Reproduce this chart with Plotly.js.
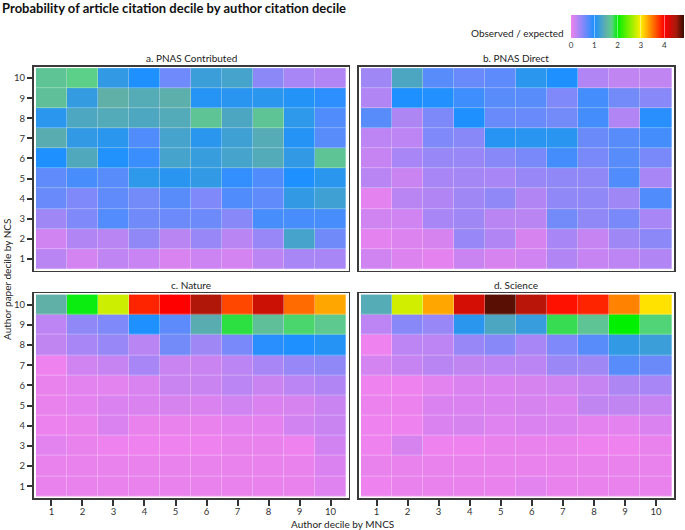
<!DOCTYPE html>
<html>
<head>
<meta charset="utf-8">
<script src="https://cdn.plot.ly/plotly-3.0.1.min.js"></script>
<style>
  html, body { margin: 0; padding: 0; background: #fff; }
  #chart { width: 685px; height: 530px; }
</style>
</head>
<body>
<div id="chart"></div>
<script>
// deciles: columns = author decile by MNCS, rows = author paper decile by NCS (top row first)
let colDeciles = [1, 2, 3, 4, 5, 6, 7, 8, 9, 10];
let rowDeciles = [10, 9, 8, 7, 6, 5, 4, 3, 2, 1];

let pnasContributed = [
  [1.65, 1.75, 1.15, 1.0, 0.62, 1.22, 1.3, 0.48, 0.34, 0.3],
  [1.62, 1.17, 1.5, 1.42, 1.48, 1.06, 1.08, 1.1, 1.04, 0.93],
  [1.1, 1.36, 1.4, 1.36, 1.4, 1.65, 1.35, 1.65, 1.12, 0.76],
  [1.45, 1.15, 1.1, 0.76, 1.3, 1.1, 1.25, 1.42, 1.05, 0.72],
  [1.0, 1.38, 1.02, 0.87, 1.3, 1.2, 1.3, 1.4, 1.15, 1.65],
  [0.69, 0.8, 0.72, 1.12, 1.08, 1.15, 0.9, 0.76, 1.0, 1.1],
  [0.65, 0.54, 0.69, 0.6, 0.72, 0.54, 0.76, 0.69, 1.15, 1.25],
  [0.38, 0.54, 0.75, 0.61, 0.63, 0.63, 0.5, 0.8, 0.8, 0.8],
  [0.15, 0.3, 0.26, 0.46, 0.26, 0.42, 0.26, 0.42, 1.3, 0.61],
  [0.26, 0.13, 0.23, 0.19, 0.11, 0.17, 0.13, 0.25, 0.34, 0.34]
];

let pnasDirect = [
  [0.38, 1.35, 0.72, 0.65, 0.7, 1.1, 1.0, 0.3, 0.22, 0.22],
  [0.3, 1.0, 0.98, 0.85, 0.72, 0.72, 0.54, 0.82, 0.6, 0.5],
  [0.72, 0.32, 0.55, 1.0, 0.65, 0.65, 0.6, 0.82, 0.3, 0.95],
  [0.24, 0.24, 0.54, 0.5, 1.07, 1.08, 1.08, 0.64, 0.72, 0.82],
  [0.2, 0.34, 0.42, 0.42, 0.5, 0.57, 0.82, 0.57, 0.72, 0.57],
  [0.26, 0.18, 0.34, 0.36, 0.34, 0.42, 0.46, 0.46, 0.76, 0.34],
  [0.05, 0.26, 0.3, 0.38, 0.46, 0.3, 0.46, 0.46, 0.38, 0.76],
  [0.15, 0.15, 0.34, 0.38, 0.26, 0.26, 0.6, 0.46, 0.57, 0.34],
  [0.05, 0.09, 0.12, 0.42, 0.3, 0.12, 0.34, 0.2, 0.38, 0.48],
  [0.15, 0.09, 0.05, 0.18, 0.12, 0.15, 0.3, 0.2, 0.24, 0.3]
];

let nature = [
  [1.5, 1.97, 2.8, 3.85, 4.0, 4.45, 3.7, 4.3, 3.55, 3.3],
  [0.24, 0.46, 0.54, 1.0, 0.7, 1.45, 1.88, 1.62, 1.8, 1.7],
  [0.22, 0.34, 0.42, 0.26, 0.6, 0.38, 0.57, 0.95, 1.0, 1.05],
  [0.0, 0.15, 0.2, 0.34, 0.18, 0.18, 0.25, 0.34, 0.42, 0.46],
  [0.02, 0.06, 0.06, 0.11, 0.18, 0.18, 0.25, 0.18, 0.25, 0.3],
  [0.02, 0.05, 0.1, 0.1, 0.12, 0.1, 0.15, 0.1, 0.12, 0.18],
  [0.01, 0.02, 0.1, 0.02, 0.02, 0.02, 0.05, 0.05, 0.14, 0.18],
  [0.06, 0.02, 0.0, 0.0, 0.0, 0.0, 0.02, 0.02, 0.0, 0.14],
  [0.02, 0.02, 0.02, 0.02, 0.02, 0.02, 0.02, 0.02, 0.02, 0.1],
  [0.02, 0.02, 0.02, 0.02, 0.02, 0.02, 0.02, 0.02, 0.02, 0.08]
];

let science = [
  [1.42, 2.82, 3.3, 4.25, 4.75, 4.4, 3.93, 3.85, 3.45, 3.05],
  [0.24, 0.5, 0.42, 1.1, 1.35, 1.2, 1.85, 1.65, 2.0, 1.78],
  [0.0, 0.24, 0.24, 0.42, 0.5, 0.34, 0.54, 0.72, 1.15, 1.22],
  [0.13, 0.2, 0.26, 0.22, 0.24, 0.25, 0.4, 0.38, 0.72, 0.64],
  [0.0, 0.0, 0.06, 0.1, 0.1, 0.12, 0.15, 0.2, 0.32, 0.34],
  [0.01, 0.01, 0.1, 0.1, 0.1, 0.12, 0.1, 0.22, 0.22, 0.2],
  [0.0, 0.0, 0.1, 0.12, 0.08, 0.1, 0.1, 0.05, 0.05, 0.1],
  [0.0, 0.12, 0.0, 0.0, 0.02, 0.02, 0.02, 0.0, 0.0, 0.02],
  [0.02, 0.02, 0.02, 0.02, 0.02, 0.02, 0.02, 0.02, 0.02, 0.02],
  [0.0, 0.02, 0.02, 0.02, 0.02, 0.06, 0.02, 0.02, 0.02, 0.02]
];

let panelTitles = ['a. PNAS Contributed', 'b. PNAS Direct', 'c. Nature', 'd. Science'];
let colorTicks = [0, 1, 2, 3, 4];

// colour scale stops, in observed/expected units
let zMax = 4.85;
let stopValues = [0, 0.5, 1, 1.5, 1.75, 2, 3, 4, 4.5, 4.85];
let stopColors = ['#ee82ee', '#8888f8', '#1e90ff', '#60b0a8', '#5ccf88', '#00f000', '#ffee00', '#ff0000', '#a81a0a', '#3a0a00'];
let scale = stopValues.map((v, i) => [v / zMax, stopColors[i]]);

let W = 685, H = 530;
let px = x => x / W;
let py = y => 1 - y / H;

let xDom = [[px(33.5), px(348.5)], [px(358.5), px(674)]];
let yDom = [[py(270.5), py(66.5)], [py(498), py(293)]];

let font = 'Lato, "Open Sans", sans-serif';
let ink = '#333';

let data = [];
let layout = {
  width: W, height: H,
  margin: {l: 0, r: 0, t: 0, b: 0},
  paper_bgcolor: '#fff',
  plot_bgcolor: '#fff',
  font: {family: font, size: 10, color: ink},
  showlegend: false,
  coloraxis: {
    colorscale: scale, cmin: 0, cmax: zMax,
    colorbar: {
      orientation: 'h',
      x: px(627.5), xanchor: 'center',
      y: py(15), yanchor: 'top',
      len: 113 / W, lenmode: 'fraction',
      thickness: 23, thicknessmode: 'pixels',
      xpad: 0, ypad: 0,
      outlinewidth: 0,
      tickvals: colorTicks,
      ticks: 'inside', ticklen: 23, tickwidth: 1, tickcolor: 'rgba(255,255,255,0.45)',
      tickfont: {size: 8, color: ink, family: font}
    }
  },
  annotations: [],
  title: {
    text: '<b>Probability of article citation decile by author citation decile</b>',
    x: 0.003, xanchor: 'left', y: py(8), yanchor: 'middle',
    font: {family: font, size: 13, color: '#111'}
  }
};

let panels = [pnasContributed, pnasDirect, nature, science];
panels.forEach((z, i) => {
  let col = i % 2, row = Math.floor(i / 2);
  let n = i + 1;
  let xa = n === 1 ? 'xaxis' : 'xaxis' + n;
  let ya = n === 1 ? 'yaxis' : 'yaxis' + n;
  data.push({
    type: 'heatmap',
    x: colDeciles, y: rowDeciles, z: z,
    xaxis: 'x' + (n === 1 ? '' : n), yaxis: 'y' + (n === 1 ? '' : n),
    coloraxis: 'coloraxis',
    xgap: 0.3, ygap: 0.3,
    hoverinfo: 'skip'
  });
  layout[xa] = {
    domain: xDom[col], anchor: 'y' + (n === 1 ? '' : n),
    range: [0.42, 10.58], fixedrange: true,
    showgrid: false, zeroline: false,
    showline: true, mirror: true, linecolor: '#3a3a3a', linewidth: 1.5,
    tickvals: colDeciles,
    ticks: row === 1 ? 'outside' : '', ticklen: 6, tickwidth: 2, tickcolor: ink,
    ticklabelstandoff: -2,
    showticklabels: row === 1,
    tickfont: {size: 9.5, color: ink, family: font}
  };
  layout[ya] = {
    domain: yDom[row], anchor: 'x' + (n === 1 ? '' : n),
    range: [0.42, 10.58], fixedrange: true,
    showgrid: false, zeroline: false,
    showline: true, mirror: true, linecolor: '#3a3a3a', linewidth: 1.5,
    tickvals: rowDeciles,
    ticks: col === 0 ? 'outside' : '', ticklen: 5, tickwidth: 2, tickcolor: ink,
    showticklabels: col === 0,
    tickfont: {size: 9.5, color: ink, family: font}
  };
  layout.annotations.push({
    text: panelTitles[i], xref: 'paper', yref: 'paper',
    x: (xDom[col][0] + xDom[col][1]) / 2, y: row === 0 ? py(58) : py(285),
    xanchor: 'center', yanchor: 'middle', showarrow: false,
    font: {size: 10, color: '#222', family: font}
  });
});

layout.annotations.push(
  {text: 'Observed / expected', xref: 'paper', yref: 'paper', x: px(566), y: py(33),
   xanchor: 'right', yanchor: 'middle', showarrow: false, font: {size: 10, color: '#222', family: font}},
  {text: 'Author decile by MNCS', xref: 'paper', yref: 'paper', x: px(342), y: py(523.5),
   xanchor: 'center', yanchor: 'middle', showarrow: false, font: {size: 10, color: '#222', family: font}},
  {text: 'Author paper decile by NCS', xref: 'paper', yref: 'paper', x: px(7), y: py(280),
   xanchor: 'center', yanchor: 'middle', textangle: -90, showarrow: false, font: {size: 10, color: '#222', family: font}}
);

Plotly.newPlot('chart', data, layout, {displayModeBar: false, staticPlot: true});
</script>
</body>
</html>
